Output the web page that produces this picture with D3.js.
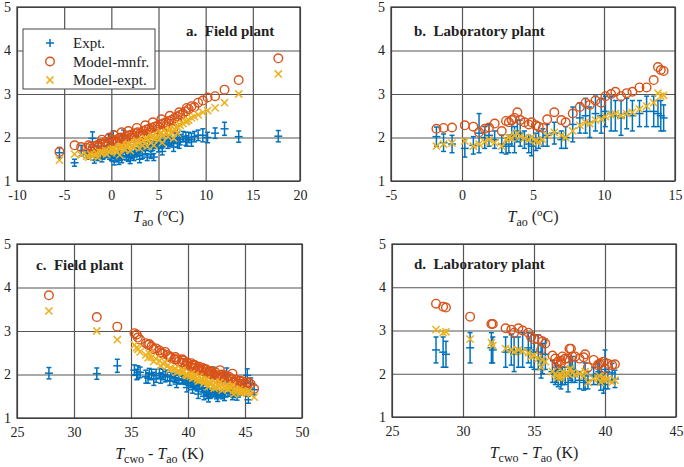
<!DOCTYPE html>
<html>
<head>
<meta charset="utf-8">
<script src="https://cdn.jsdelivr.net/npm/d3@7"></script>
<style>
  body { margin: 0; background: #fff; }
  svg text { font-family: "Liberation Serif", "Times New Roman", serif; fill: #222; }
</style>
</head>
<body>
<svg id="chart" width="684" height="467"></svg>
<script>
// Field plant: outdoor air temp, (Tcwo - Tao), measured COP, error, model values
const fieldTao = [-5.5, -3.9, -3.2, -2.6, -2.2, -1.8, -1.5, -1.2, -0.9, -0.6, -0.3, 0.0, 0.2, 0.5, 0.8, 1.0, 1.3, 1.6, 1.9, 2.2,
  2.5, 2.8, 3.1, 3.4, 3.7, 4.0, 4.3, 4.6, 4.9, 5.2, 5.5, 5.8, 6.1, 6.4, 6.7, 7.0, 7.3, 7.6, 7.9, 8.2,
  8.5, 8.8, 9.2, 9.7, 10.2, 11.0, 12.0, 13.5, 17.7, -2.0, -0.5, 0.6, 1.5, 2.4, 3.3, 4.2, 5.0, 6.0, 7.0, 3.0, 4.5,
  -2.4, -1.0, -0.2, 0.3, 1.1, 1.8, 2.7, 3.6, 4.4, 5.3, 6.2, 7.2, 8.0, 2.0, 3.8, 5.4, 6.6, 0.9, -1.4]
const fieldDT = [45.8, 45.3, 45.0, 44.6, 44.8, 44.3, 44.0, 44.5, 43.5, 43.8, 43.2, 42.8, 43.4, 42.5, 42.6, 42.0, 42.2, 41.8, 41.5, 41.9,
  41.2, 40.8, 41.0, 40.5, 40.2, 40.6, 39.8, 40.0, 39.5, 39.2, 39.6, 38.8, 38.5, 38.9, 38.2, 37.8, 38.0, 37.5, 37.2, 36.8,
  36.3, 36.6, 35.8, 35.6, 35.5, 35.3, 33.8, 32.0, 27.8, 45.2, 44.8, 44.2, 43.6, 43.0, 42.4, 41.6, 41.0, 40.3, 39.5, 43.9, 42.8,
  44.0, 43.0, 42.3, 41.8, 41.4, 40.9, 40.4, 39.9, 39.0, 38.4, 37.6, 37.0, 36.5, 43.2, 42.0, 41.3, 40.6, 44.6, 45.5]
const fieldExpt = [1.65, 1.42, 1.70, 1.62, 1.68, 1.48, 1.55, 1.60, 1.58, 1.62, 1.95, 1.55, 2.00, 1.52, 1.48, 1.55, 2.05, 1.58, 1.62, 1.60,
  1.68, 1.72, 1.75, 1.78, 1.80, 1.82, 1.85, 1.83, 1.88, 1.90, 1.87, 1.93, 1.95, 1.90, 1.98, 2.00, 1.95, 2.02, 1.97, 2.00,
  1.95, 2.02, 2.05, 2.05, 2.00, 2.10, 2.20, 2.02, 2.03, 1.98, 1.72, 1.60, 1.65, 1.55, 1.62, 1.60, 1.75, 1.85, 1.88, 1.50, 1.55,
  1.58, 1.52, 1.58, 1.45, 1.50, 1.55, 1.65, 1.70, 1.78, 1.85, 1.92, 1.90, 1.92, 1.48, 1.55, 1.68, 1.78, 1.62, 1.80]
const fieldErr = [0.12, 0.08, 0.12, 0.08, 0.10, 0.07, 0.08, 0.08, 0.08, 0.08, 0.12, 0.08, 0.15, 0.08, 0.10, 0.08, 0.12, 0.10, 0.08, 0.08,
  0.08, 0.10, 0.08, 0.08, 0.10, 0.08, 0.08, 0.08, 0.08, 0.10, 0.08, 0.10, 0.10, 0.08, 0.12, 0.12, 0.12, 0.12, 0.15, 0.12,
  0.15, 0.12, 0.12, 0.15, 0.12, 0.12, 0.15, 0.13, 0.13, 0.15, 0.08, 0.08, 0.08, 0.08, 0.10, 0.08, 0.08, 0.10, 0.10, 0.08, 0.08,
  0.08, 0.08, 0.08, 0.08, 0.08, 0.10, 0.08, 0.10, 0.08, 0.10, 0.12, 0.15, 0.12, 0.08, 0.08, 0.08, 0.10, 0.08, 0.12]
const fieldMnfr = [1.67, 1.82, 1.78, 1.76, 1.79, 1.80, 1.82, 1.86, 1.85, 1.90, 1.88, 1.93, 1.95, 1.92, 1.98, 2.00, 1.97, 2.03, 2.05, 2.07,
  2.10, 2.12, 2.10, 2.15, 2.18, 2.20, 2.22, 2.25, 2.27, 2.30, 2.32, 2.35, 2.38, 2.40, 2.45, 2.48, 2.52, 2.55, 2.60, 2.65,
  2.72, 2.70, 2.80, 2.85, 2.92, 2.95, 3.10, 3.32, 3.82, 1.75, 1.84, 1.88, 1.95, 2.00, 2.05, 2.12, 2.18, 2.26, 2.35, 2.02, 2.10,
  1.82, 1.95, 2.00, 2.05, 2.12, 2.15, 2.22, 2.28, 2.35, 2.42, 2.50, 2.58, 2.68, 1.98, 2.08, 2.15, 2.22, 1.85, 1.78]
const fieldMexpt = [1.48, 1.62, 1.60, 1.57, 1.62, 1.60, 1.63, 1.66, 1.65, 1.70, 1.68, 1.72, 1.74, 1.70, 1.76, 1.78, 1.74, 1.82, 1.84, 1.80,
  1.88, 1.90, 1.86, 1.93, 1.96, 1.94, 2.00, 1.98, 2.04, 2.08, 2.05, 2.12, 2.15, 2.13, 2.20, 2.25, 2.28, 2.32, 2.36, 2.40,
  2.45, 2.48, 2.52, 2.58, 2.62, 2.68, 2.80, 3.00, 3.46, 1.58, 1.62, 1.66, 1.72, 1.78, 1.82, 1.88, 1.95, 2.02, 2.10, 1.75, 1.82,
  1.55, 1.64, 1.68, 1.72, 1.80, 1.85, 1.92, 1.98, 2.05, 2.12, 2.20, 2.30, 2.38, 1.70, 1.80, 1.88, 1.98, 1.60, 1.55]

// Laboratory plant
const labTao = [-1.8, -1.3, -0.7, 0.2, 0.8, 1.2, 1.6, 1.9, 2.3, 2.8, 3.1, 3.3, 3.5, 3.7, 3.9, 4.1, 4.4, 4.7, 4.9, 5.2,
  5.4, 5.7, 6.0, 6.5, 7.0, 7.3, 7.8, 8.3, 8.7, 9.0, 9.4, 9.8, 10.1, 10.5, 10.8, 11.2, 11.6, 12.0, 12.5, 13.0,
  13.5, 13.8, 14.0, 14.2]
const labDT = [40.5, 40.7, 40.2, 39.9, 39.7, 40.0, 39.5, 39.6, 39.2, 38.8, 38.5, 38.2, 37.9, 38.6, 37.5, 37.7, 37.2, 36.9, 37.4, 36.7,
  36.9, 36.6, 36.3, 37.6, 37.0, 36.5, 35.5, 35.8, 35.3, 35.6, 34.8, 35.0, 34.6, 34.2, 33.9, 33.6, 33.4, 33.0, 32.1, 32.0,
  30.5, 28.1, 28.6, 28.8]
const labExpt = [2.02, 1.88, 1.85, 1.75, 1.82, 2.10, 2.00, 2.05, 1.95, 1.85, 1.80, 1.85, 2.05, 1.95, 2.15, 2.10, 1.95, 1.85, 1.80, 1.90,
  1.95, 2.00, 2.05, 2.10, 1.95, 2.00, 2.30, 2.45, 2.50, 2.35, 2.55, 2.50, 2.60, 2.55, 2.50, 2.45, 2.55, 2.50, 2.55, 2.60,
  2.60, 2.55, 2.50, 2.45]
const labErr = [0.22, 0.20, 0.20, 0.20, 0.20, 0.45, 0.25, 0.25, 0.20, 0.20, 0.18, 0.20, 0.25, 0.30, 0.25, 0.30, 0.20, 0.20, 0.22, 0.20,
  0.20, 0.20, 0.25, 0.25, 0.20, 0.25, 0.40, 0.35, 0.40, 0.35, 0.40, 0.40, 0.35, 0.40, 0.35, 0.40, 0.35, 0.35, 0.30, 0.35,
  0.35, 0.30, 0.35, 0.30]
const labMnfr = [2.20, 2.22, 2.23, 2.28, 2.25, 2.12, 2.20, 2.23, 2.32, 2.15, 2.38, 2.35, 2.40, 2.45, 2.58, 2.40, 2.35, 2.30, 2.35, 2.28,
  2.25, 2.22, 2.42, 2.58, 2.40, 2.35, 2.55, 2.70, 2.80, 2.75, 2.85, 2.80, 2.95, 3.00, 3.05, 2.95, 3.02, 3.05, 3.15, 3.15,
  3.32, 3.62, 3.55, 3.53]
const labMexpt = [1.80, 1.85, 1.87, 1.92, 1.80, 1.85, 1.90, 1.95, 1.88, 1.80, 1.95, 2.00, 1.98, 2.05, 2.10, 2.02, 1.98, 1.95, 2.00, 1.92,
  1.90, 1.95, 2.05, 2.12, 2.05, 2.00, 2.15, 2.28, 2.35, 2.32, 2.40, 2.42, 2.48, 2.52, 2.55, 2.50, 2.55, 2.58, 2.65, 2.72,
  2.80, 3.02, 2.95, 2.97]

const yTicks = [1, 2, 3, 4, 5]
const seriesNames = ['Expt.', 'Model-mnfr.', 'Model-expt.']
const colors = { expt: '#0072BD', mnfr: '#D95319', mexpt: '#EDB120' }

const svg = d3.select('#chart')

const panels = [
  { title: 'a.  Field plant', tx: 186, ty: 36, box: [17, 7, 300, 181], xDom: [-10, 20], xTicks: [-10, -5, 0, 5, 10, 15, 20],
    xs: fieldTao, expt: fieldExpt, err: fieldErr, mnfr: fieldMnfr, mexpt: fieldMexpt, label: 'tao', legend: true },
  { title: 'b.  Laboratory plant', tx: 414, ty: 36, box: [391, 7, 675, 181], xDom: [-5, 15], xTicks: [-5, 0, 5, 10, 15],
    xs: labTao, expt: labExpt, err: labErr, mnfr: labMnfr, mexpt: labMexpt, label: 'tao' },
  { title: 'c.  Field plant', tx: 36, ty: 270, box: [17, 244, 302, 418], xDom: [25, 50], xTicks: [25, 30, 35, 40, 45, 50],
    xs: fieldDT, expt: fieldExpt, err: fieldErr, mnfr: fieldMnfr, mexpt: fieldMexpt, label: 'dt' },
  { title: 'd.  Laboratory plant', tx: 414, ty: 269, box: [392, 244, 676, 417], xDom: [25, 45], xTicks: [25, 30, 35, 40, 45],
    xs: labDT, expt: labExpt, err: labErr, mnfr: labMnfr, mexpt: labMexpt, label: 'dt' }
]

// plain hyphen for negatives, like the original
const fmt = d => String(d)

function plus (sel, s) {
  sel.append('line').attr('x1', -s).attr('x2', s).attr('y1', 0).attr('y2', 0)
  sel.append('line').attr('x1', 0).attr('x2', 0).attr('y1', -s).attr('y2', s)
}
function cross (sel, s) {
  sel.append('line').attr('x1', -s).attr('x2', s).attr('y1', -s).attr('y2', s)
  sel.append('line').attr('x1', -s).attr('x2', s).attr('y1', s).attr('y2', -s)
}

panels.forEach(function (p) {
  const [x0, y0, x1, y1] = p.box
  const x = d3.scaleLinear().domain(p.xDom).range([x0, x1])
  const y = d3.scaleLinear().domain([1, 5]).range([y1, y0])
  const g = svg.append('g')

  // grid
  g.append('g').attr('transform', `translate(0,${y1})`)
    .call(d3.axisBottom(x).tickValues(p.xTicks).tickSize(-(y1 - y0)).tickFormat(''))
    .call(a => a.select('.domain').remove())
    .call(a => a.selectAll('line').attr('stroke', '#555').attr('stroke-width', 1.2))
  g.append('g').attr('transform', `translate(${x0},0)`)
    .call(d3.axisLeft(y).tickValues(yTicks).tickSize(-(x1 - x0)).tickFormat(''))
    .call(a => a.select('.domain').remove())
    .call(a => a.selectAll('line').attr('stroke', '#555').attr('stroke-width', 1.2))
  g.append('rect').attr('x', x0).attr('y', y0).attr('width', x1 - x0).attr('height', y1 - y0)
    .attr('fill', 'none').attr('stroke', '#333').attr('stroke-width', 1.2)

  // tick labels
  g.append('g').attr('transform', `translate(0,${y1})`)
    .call(d3.axisBottom(x).tickValues(p.xTicks).tickSize(0).tickPadding(9).tickFormat(fmt))
    .call(a => a.select('.domain').remove())
    .call(a => a.selectAll('text').style('font-family', '"Liberation Serif", serif').style('font-size', '14px').attr('fill', '#222'))
  g.append('g').attr('transform', `translate(${x0},0)`)
    .call(d3.axisLeft(y).tickValues(yTicks).tickSize(0).tickPadding(6).tickFormat(fmt))
    .call(a => a.select('.domain').remove())
    .call(a => a.selectAll('text').style('font-family', '"Liberation Serif", serif').style('font-size', '14px').attr('fill', '#222'))

  // axis label
  const lab = g.append('text').attr('x', (x0 + x1) / 2).attr('y', y1 + 41)
    .attr('text-anchor', 'middle').style('font-size', '16px')
  if (p.label === 'tao') {
    lab.append('tspan').style('font-style', 'italic').text('T')
    lab.append('tspan').attr('dy', 4).style('font-size', '12px').text('ao')
    lab.append('tspan').attr('dy', -4).text(' (')
    lab.append('tspan').attr('dy', -6).style('font-size', '11px').text('o')
    lab.append('tspan').attr('dy', 6).text('C)')
  } else {
    lab.append('tspan').style('font-style', 'italic').text('T')
    lab.append('tspan').attr('dy', 4).style('font-size', '12px').text('cwo')
    lab.append('tspan').attr('dy', -4).text(' - ')
    lab.append('tspan').style('font-style', 'italic').text('T')
    lab.append('tspan').attr('dy', 4).style('font-size', '12px').text('ao')
    lab.append('tspan').attr('dy', -4).text(' (K)')
  }

  // title
  g.append('text').attr('x', p.tx).attr('y', p.ty).style('font-size', '15px').style('font-weight', 'bold')
    .attr('xml:space', 'preserve').text(p.title)

  const idx = d3.range(p.xs.length)

  // expt with error bars
  const eb = g.append('g').attr('stroke', colors.expt).attr('stroke-width', 1.5)
  idx.forEach(function (i) {
    const cx = x(p.xs[i])
    const cy = y(p.expt[i])
    const yt = y(p.expt[i] + p.err[i])
    const yb = y(p.expt[i] - p.err[i])
    eb.append('line').attr('x1', cx).attr('x2', cx).attr('y1', yt).attr('y2', yb)
    eb.append('line').attr('x1', cx - 2.5).attr('x2', cx + 2.5).attr('y1', yt).attr('y2', yt)
    eb.append('line').attr('x1', cx - 2.5).attr('x2', cx + 2.5).attr('y1', yb).attr('y2', yb)
    eb.append('line').attr('x1', cx - 4).attr('x2', cx + 4).attr('y1', cy).attr('y2', cy)
  })

  // model-mnfr circles
  g.append('g').selectAll('circle').data(idx).join('circle')
    .attr('cx', i => x(p.xs[i])).attr('cy', i => y(p.mnfr[i])).attr('r', 4.3)
    .attr('fill', 'none').attr('stroke', colors.mnfr).attr('stroke-width', 1.4)

  // model-expt crosses
  g.append('g').attr('stroke', colors.mexpt).attr('stroke-width', 1.5)
    .selectAll('g').data(idx).join('g')
    .attr('transform', i => `translate(${x(p.xs[i])},${y(p.mexpt[i])})`)
    .each(function () { cross(d3.select(this), 3.6) })

  if (p.legend) {
    const lg = g.append('g')
    lg.append('rect').attr('x', 23).attr('y', 29).attr('width', 132).attr('height', 60)
      .attr('fill', '#fff').attr('stroke', '#444').attr('stroke-width', 1)
    const ly = d3.scalePoint().domain(seriesNames).range([43, 80])
    const mk = lg.selectAll('g').data(seriesNames).join('g')
      .attr('transform', d => `translate(50,${ly(d)})`)
    mk.each(function (d, i) {
      const s = d3.select(this)
      if (i === 0) { s.attr('stroke', colors.expt).attr('stroke-width', 1.5); plus(s, 4) }
      if (i === 1) s.append('circle').attr('r', 4.3).attr('fill', 'none').attr('stroke', colors.mnfr).attr('stroke-width', 1.4)
      if (i === 2) { s.attr('stroke', colors.mexpt).attr('stroke-width', 1.5); cross(s, 3.6) }
    })
    lg.selectAll('text').data(seriesNames).join('text')
      .attr('x', 73).attr('y', d => ly(d) + 5).style('font-size', '15px').text(d => d)
  }
})
</script>
</body>
</html>
